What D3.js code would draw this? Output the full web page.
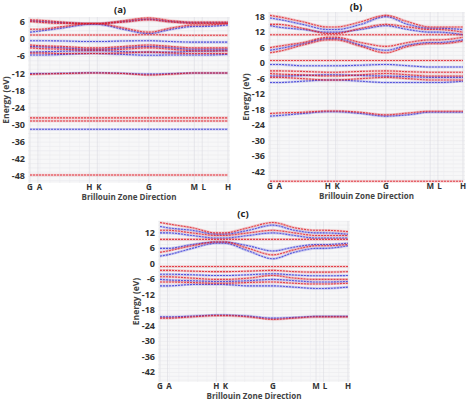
<!DOCTYPE html>
<html><head><meta charset="utf-8">
<script src="https://cdn.jsdelivr.net/npm/d3@7"></script>
<style>body{margin:0;background:#fff}svg{font-family:"Open Sans",sans-serif;font-weight:bold}</style>
</head><body><svg id="c" width="474" height="402"></svg>
<script>
// k-path (fractional positions) and labels
const kPos = [0, .04, .17, .3, .34, .47, .6, .715, .83, .87, 1];
const kLabels = ["G","A","H","K","G","M","L","H"];
const kLabelPos = [0, .04, .3, .34, .6, .83, .87, 1];

// Panel (a)
const aRed = [
 [6.8,6.7,6,5.5,5.5,6.5,7.5,6.5,6,6,6],
 [6.2,6,5.5,5.5,5.5,6,6.8,6,5.5,5.5,5.5],
 [3.5,3.5,4.5,5.5,5.5,4,2.5,4,5,5,5.5],
 [1.5,1.5,1.5,1.5,1.5,1.5,1.6,1.5,1.4,1.4,1.4],
 [-2,-2.2,-2.5,-3,-3,-2.5,-2,-2.5,-3,-3,-3],
 [-3,-3.2,-3.5,-3.8,-3.8,-3.5,-3,-3.5,-4,-4,-4],
 [-4.8,-4.8,-5,-5,-5,-4.8,-4.5,-4.8,-5,-5,-5],
 [-12.3,-12.2,-12,-11.8,-11.8,-12,-12.5,-12.2,-11.8,-11.8,-11.8],
 [-27.5,-27.5,-27.5,-27.5,-27.5,-27.5,-27.5,-27.5,-27.5,-27.5,-27.5],
 [-28.6,-28.6,-28.6,-28.6,-28.6,-28.6,-28.6,-28.6,-28.6,-28.6,-28.6],
 [-47.5,-47.5,-47.5,-47.5,-47.5,-47.5,-47.5,-47.5,-47.5,-47.5,-47.5]
];
const aBlue = [
 [2.5,2.8,4,5.2,5.2,3.5,2,3.5,4.5,4.5,5],
 [6.5,6.3,5.8,5.5,5.5,6.2,7,6.2,5.8,5.8,5.8],
 [-0.5,-0.5,-0.6,-0.8,-0.8,-0.6,-0.5,-0.8,-1,-1,-1],
 [-2.5,-2.6,-3,-3.5,-3.5,-3,-2.5,-3,-3.5,-3.5,-3.5],
 [-4.5,-4.4,-4.2,-4,-4,-4.3,-4.5,-4.5,-4.2,-4.2,-4],
 [-5.5,-5.5,-5.3,-5,-5,-5.3,-5.6,-5.5,-5.5,-5.5,-5.3],
 [-12,-12,-11.9,-11.7,-11.7,-11.9,-12.2,-12,-11.8,-11.8,-11.8],
 [-31.5,-31.5,-31.5,-31.5,-31.5,-31.5,-31.5,-31.5,-31.5,-31.5,-31.5]
];
const aTicks = [6,0,-6,-12,-18,-24,-30,-36,-42,-48];

// Panel (b)
const bRed = [
 [18.5,18,16,14,14,16,18.5,16,14,14,14],
 [15,15,13.5,11.5,11.5,13.5,15,14,13,13,12],
 [11,11,11,11,11,11,11,11,11,11,11],
 [6,6.5,8,10,10,8,6.5,8,9,9,10],
 [4,4.5,7,9,9,6.5,4,6.5,7.5,7.5,8.5],
 [1,1,1,1,1,1,1,1,1,1,1],
 [-3,-3,-3.2,-3.5,-3.5,-3.2,-3,-3.3,-3.5,-3.5,-3.5],
 [-4,-4.2,-4.5,-5,-5,-4.5,-4,-4.5,-5,-5,-5],
 [-5.5,-5.5,-6,-6.5,-6.5,-6,-5.5,-6,-6.5,-6.5,-6.5],
 [-19.5,-19.3,-19,-18.5,-18.5,-19,-20,-19.3,-18.6,-18.6,-18.6],
 [-45.7,-45.7,-45.7,-45.7,-45.7,-45.7,-45.7,-45.7,-45.7,-45.7,-45.7]
];
const bBlue = [
 [17.5,17,15,13,13,15,18,15,13.5,13.5,13],
 [14.5,14,13,12,12,13,14.5,13,12,12,11],
 [5,5.5,7.5,9.5,9.5,7,5,7,8,8,9],
 [-0.5,-0.5,-1,-1,-1,-0.8,-0.5,-1,-1.5,-1.5,-1.5],
 [-5,-5,-4.8,-4.5,-4.5,-4.8,-5,-5.2,-5.5,-5.5,-5.5],
 [-7.5,-7.5,-7,-6.5,-6.5,-7,-7.5,-7.5,-7.5,-7.5,-7],
 [-20.5,-20.3,-19.5,-18.8,-18.8,-19.5,-20.5,-20,-19,-19,-19]
];
const bTicks = [18,12,6,0,-6,-12,-18,-24,-30,-36,-42];

// Panel (c)
const cRed = [
 [16,15.5,14,12,12,14,16,14,13,13,12.5],
 [13,13,12,11,11,12,13,12,11,11,11],
 [9.5,9.5,9.5,9.5,9.5,9.5,9.5,9.5,9.5,9.5,9.5],
 [4.5,5,7,8.5,8.5,6,3.5,5.5,7,7,7.5],
 [-1,-1,-1,-1,-1,-1,-1,-1,-1,-1,-1],
 [-2.5,-2.5,-2.8,-3,-3,-2.8,-2.5,-3,-3.2,-3.2,-3],
 [-5,-5,-5.5,-6,-6,-5.5,-4.5,-5.5,-6,-6,-6],
 [-7,-7,-7.2,-7.5,-7.5,-7.2,-7,-7.5,-7.8,-7.8,-7.5],
 [-21,-21,-20.5,-20,-20,-20.5,-21.5,-21,-20.5,-20.5,-20.5]
];
const cBlue = [
 [14.5,14,13,11.5,11.5,13,15,13,12,12,11.5],
 [12,12,11,10,10,11,12,11,10,10,10],
 [6,6,7.5,8.5,8.5,7,5,6.5,7.5,7.5,8],
 [3,3.5,6,8,8,5,2,4.5,6,6,7],
 [-4,-4,-4.2,-4.5,-4.5,-4.2,-3.8,-4.3,-4.6,-4.6,-4.5],
 [-6,-6.2,-6.5,-6.8,-6.8,-6.5,-6,-6.5,-7,-7,-6.8],
 [-8.5,-8.5,-8,-8,-8,-8.5,-8.5,-9,-9.5,-9.5,-9],
 [-20.5,-20.5,-20.2,-19.8,-19.8,-20.2,-21,-20.7,-20.3,-20.3,-20.3]
];
const cTicks = [12,6,0,-6,-12,-18,-24,-30,-36,-42];

const svg = d3.select("#c");
function panel(o){
  const g = svg.append("g");
  const x = d3.scaleLinear().domain([0,1]).range([o.x0+2,o.x1-2]);
  const y = d3.scaleLinear().domain(o.dom).range([o.y1,o.y0]);
  g.append("rect").attr("x",o.x0).attr("y",o.y0).attr("width",o.x1-o.x0).attr("height",o.y1-o.y0).attr("fill","#f7f7f8");
  const minor = d3.range(Math.ceil(o.dom[0]/1.5)*1.5, o.dom[1], 1.5);
  g.selectAll(".mg").data(minor).join("line").attr("x1",o.x0).attr("x2",o.x1)
   .attr("y1",d=>y(d)).attr("y2",d=>y(d)).attr("stroke","#e6e6ea").attr("stroke-width",0.5);
  g.selectAll(".vg").data(d3.range(0,1.001,0.05)).join("line").attr("y1",o.y0).attr("y2",o.y1)
   .attr("x1",d=>x(d)).attr("x2",d=>x(d)).attr("stroke","#ececf0").attr("stroke-width",0.5);
  g.selectAll(".kg").data(kLabelPos).join("line").attr("y1",o.y0).attr("y2",o.y1)
   .attr("x1",d=>x(d)).attr("x2",d=>x(d)).attr("stroke","#dcdce2").attr("stroke-width",0.6);
  const line = d3.line().x((d,i)=>x(kPos[i])).y(d=>y(d)).curve(d3.curveMonotoneX);
  const draw=(arr,col)=>{
    arr.forEach(b=>{
      g.append("path").attr("d",line(b)).attr("fill","none").attr("stroke",col)
       .attr("stroke-width",2.6).attr("stroke-opacity",0.22);
      g.append("path").attr("d",line(b)).attr("fill","none").attr("stroke",col)
       .attr("stroke-width",1.1).attr("stroke-dasharray","2,1").attr("stroke-opacity",0.8);
    });
  };
  draw(o.blue,"#3a3ad8"); draw(o.red,"#e0202a");
  g.selectAll(".tl").data(o.ticks).join("text").attr("x",o.x0-3).attr("y",d=>y(d)+3)
   .attr("text-anchor","end").attr("font-size",9).attr("fill","#333").text(d=>d);
  g.selectAll(".kl").data(kLabels).join("text").attr("x",(d,i)=>x(kLabelPos[i])+(i==1||i==3||i==6?1.5:0))
   .attr("y",o.y1+7).attr("text-anchor","middle").attr("font-size",8).attr("fill","#333").text(d=>d);
  g.append("text").attr("x",(o.x0+o.x1)/2).attr("y",o.y1+17).attr("text-anchor","middle")
   .attr("font-size",8).attr("fill","#444").text("Brillouin Zone Direction");
  g.append("text").attr("transform",`translate(${o.x0-19},${(o.y0+o.y1)/2})rotate(-90)`)
   .attr("text-anchor","middle").attr("font-size",8.5).attr("fill","#444").text("Energy (eV)");
  g.append("text").attr("x",o.tx).attr("y",o.ty).attr("text-anchor","middle")
   .attr("font-size",9.5).attr("fill","#222").text(o.title);
}
panel({x0:28,x1:230,y0:17,y1:183,dom:[-50.3,7.8],red:aRed,blue:aBlue,ticks:aTicks,title:"(a)",tx:120,ty:13});
panel({x0:268,x1:465,y0:12,y1:182,dom:[-46,19.8],red:bRed,blue:bBlue,ticks:bTicks,title:"(b)",tx:356,ty:10});
panel({x0:158,x1:350,y0:221,y1:382,dom:[-45.7,16.6],red:cRed,blue:cBlue,ticks:cTicks,title:"(c)",tx:243,ty:217});
</script></body></html>
